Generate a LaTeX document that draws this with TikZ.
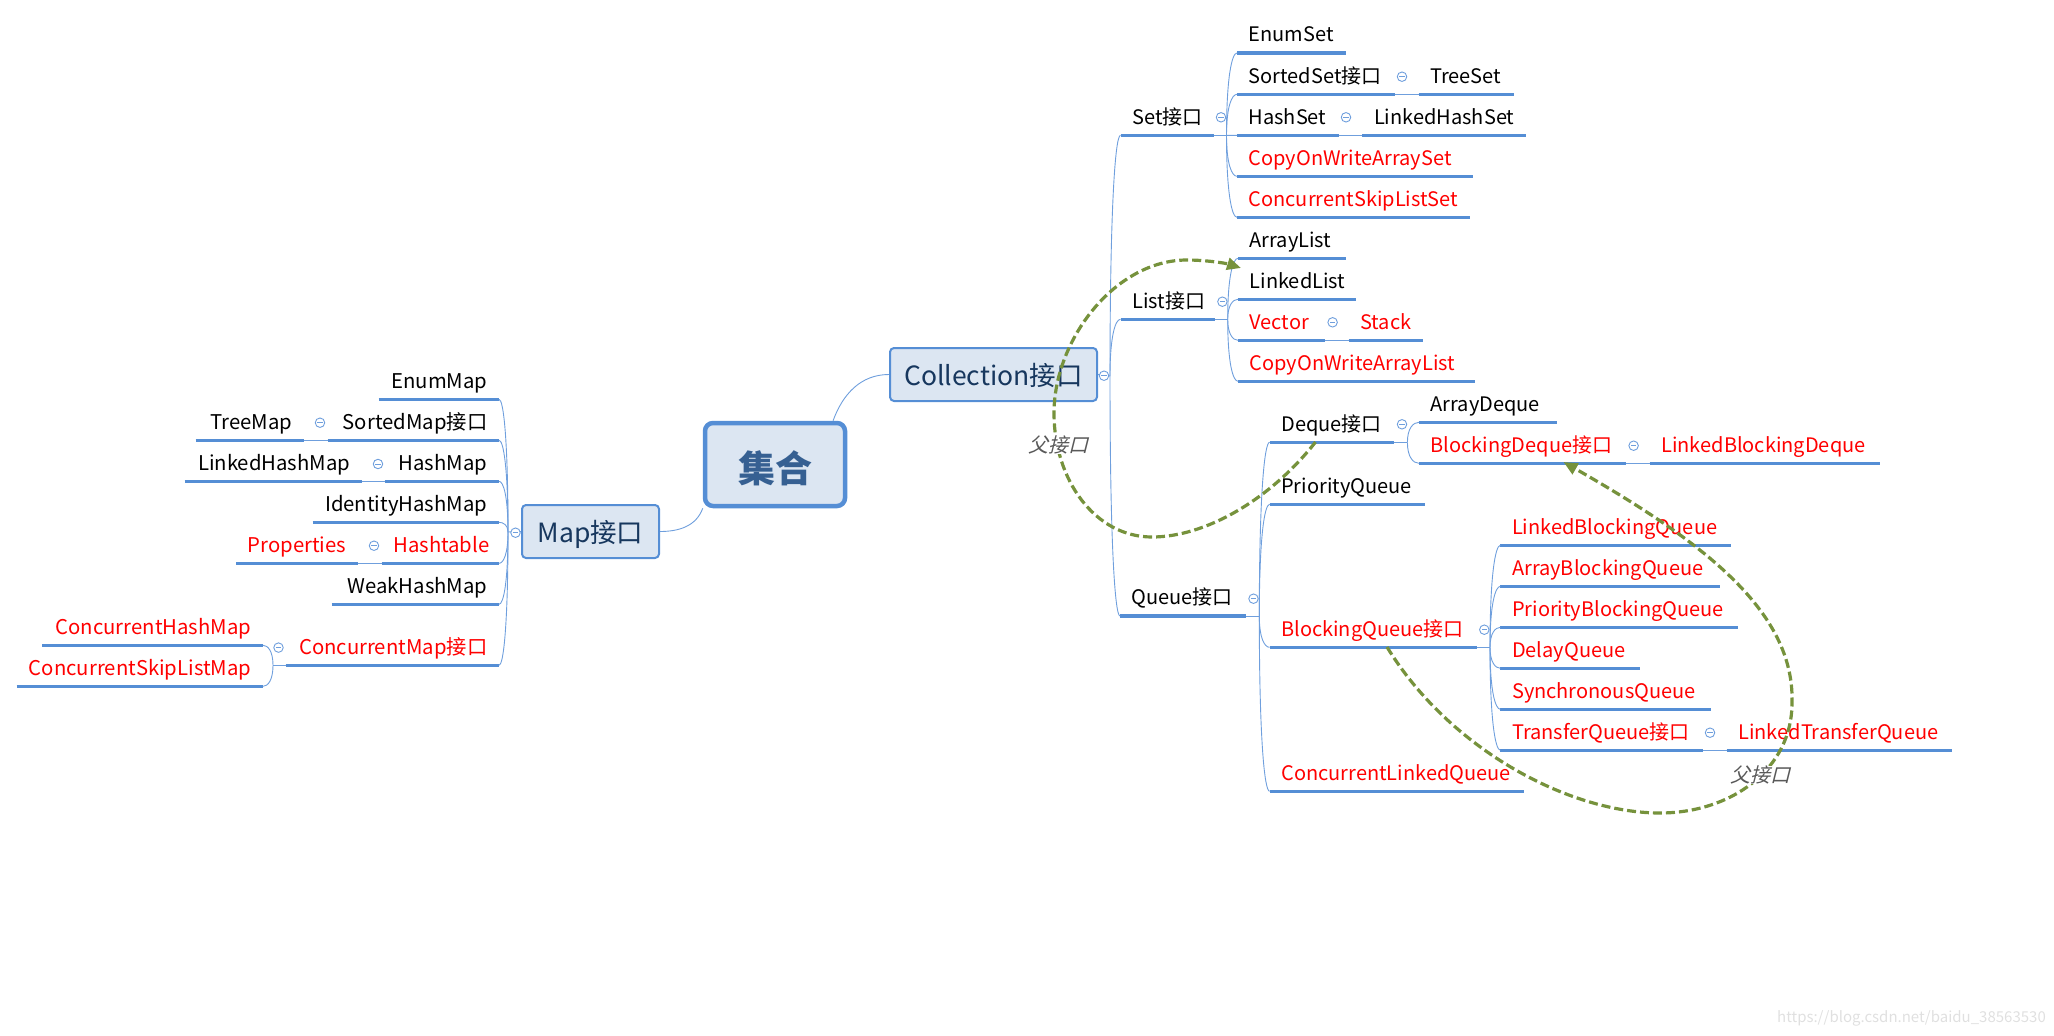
\documentclass[tikz,border=0pt]{standalone}
\usepackage{fontspec}
\setmainfont{Noto Sans CJK SC}
\newfontfamily\slantfont[FakeSlant=0.25]{Noto Sans CJK SC}
\usetikzlibrary{arrows.meta,calc}

\definecolor{linkblue}{HTML}{6F9FDD}
\definecolor{barblue}{HTML}{558ED5}
\definecolor{boxfill}{HTML}{DCE6F2}
\definecolor{boxtext}{HTML}{17375E}
\definecolor{roottext}{HTML}{366092}
\definecolor{relgreen}{HTML}{76923C}

\tikzset{
  bar/.style={line width=3.2pt, barblue},
  link/.style={line width=0.9pt, linkblue},
  branch/.style={to path={.. controls ($(\tikztostart)!.7!(\tikztostart |- \tikztotarget)$)
    and ($(\tikztostart |- \tikztotarget)!.5!(\tikztotarget)$) .. (\tikztotarget)}},
  topic/.style={inner xsep=11.5pt, inner ysep=0pt, text width=#1-23pt, align=left, anchor=south west,
    text height=17pt, text depth=11pt, font=\fontsize{20}{20}\selectfont,
    append after command={(\tikzlastnode.south west) edge[bar] (\tikzlastnode.south east)}},
  ltopic/.style={topic=#1, align=right, anchor=south east, font=\fontsize{20.3}{20.3}\selectfont},
  hot/.style={text=red},
  subject/.style={rectangle, rounded corners=4pt, draw=barblue, fill=boxfill, line width=2pt,
    text=boxtext, font=\fontsize{26.5}{26.5}\selectfont, inner sep=0pt, text height=28pt, text depth=6pt},
  fold/.style={circle, draw=linkblue, fill=white, line width=0.9pt, minimum size=9.5pt, inner sep=0pt,
    path picture={\draw[linkblue, line width=0.9pt] ([xshift=2.2pt]path picture bounding box.west)
      -- ([xshift=-2.2pt]path picture bounding box.east);}},
  relation/.style={line width=3.2pt, relgreen, dash pattern=on 9pt off 4pt,
    -{Triangle[length=14pt,width=12pt,fill=relgreen]}},
  note/.style={fill=white, inner sep=0pt, text=black!65, font=\slantfont\fontsize{20}{20}\selectfont},
}

\begin{document}
\begin{tikzpicture}[x=1pt, y=-1pt]
  \useasboundingbox (0,0) rectangle (2054,1036);

  % centre
  \node[subject, rounded corners=8pt, line width=4.5pt, minimum width=140pt, minimum height=83pt,
    text=roottext, font=\bfseries\fontsize{37}{37}\selectfont, text height=42pt] (Root) at (775,464.5) {集合};
  \node[subject, minimum width=137pt, minimum height=53pt] (Map) at (590.5,531.5) {Map接口};
  \node[subject, minimum width=207pt, minimum height=53pt] (Collection) at (993.5,374.5) {Collection接口};
  \path[link] (Root.37.5) edge[out=70, in=180] (Collection.west);
  \path[link] (Root.south west) edge[out=-110, in=0] (Map.east);

  % map side
  \node[ltopic=120] (EnumMap) at (499,399.3) {EnumMap};
  \node[ltopic=171] (SortedMap) at (499,440.3) {SortedMap接口};
  \node[ltopic=108] (TreeMap) at (304,440.3) {TreeMap};
  \node[ltopic=114] (HashMap) at (499,481.3) {HashMap};
  \node[ltopic=177] (LinkedHashMap) at (362,481.3) {LinkedHashMap};
  \node[ltopic=186] (IdentityHashMap) at (499,522.3) {IdentityHashMap};
  \node[ltopic=117, hot] (Hashtable) at (499,563.3) {Hashtable};
  \node[ltopic=121.5, hot] (Properties) at (358,563.3) {Properties};
  \node[ltopic=167] (WeakHashMap) at (499,604.3) {WeakHashMap};
  \node[ltopic=213, hot] (ConcurrentMap) at (499,665.3) {ConcurrentMap接口};
  \node[ltopic=220.5, hot] (ConcurrentHashMap) at (263,645.3) {ConcurrentHashMap};
  \node[ltopic=246, hot] (ConcurrentSkipListMap) at (263,686.3) {ConcurrentSkipListMap};

  \coordinate (MapBus) at (508,532);
  \coordinate (CMapBus) at (273,665.3);
  \draw[link] (Map.west) -- (MapBus);
  \path[link] (MapBus) edge[branch] (EnumMap.south east);
  \path[link] (MapBus) edge[branch] (SortedMap.south east);
  \path[link] (MapBus) edge[branch] (HashMap.south east);
  \path[link] (MapBus) edge[branch] (IdentityHashMap.south east);
  \path[link] (MapBus) edge[branch] (Hashtable.south east);
  \path[link] (MapBus) edge[branch] (WeakHashMap.south east);
  \path[link] (MapBus) edge[branch] (ConcurrentMap.south east);
  \draw[link] (SortedMap.south west) -- (TreeMap.south east);
  \draw[link] (HashMap.south west) -- (LinkedHashMap.south east);
  \draw[link] (Hashtable.south west) -- (Properties.south east);
  \draw[link] (ConcurrentMap.south west) -- (CMapBus);
  \path[link] (CMapBus) edge[branch] (ConcurrentHashMap.south east);
  \path[link] (CMapBus) edge[branch] (ConcurrentSkipListMap.south east);

  % set
  \node[topic=93] (Set) at (1120.5,135.3) {Set接口};
  \node[topic=108.6] (EnumSet) at (1237,53) {EnumSet};
  \node[topic=157.6] (SortedSet) at (1237,94.3) {SortedSet接口};
  \node[topic=95] (TreeSet) at (1418.7,94.3) {TreeSet};
  \node[topic=101.7] (HashSet) at (1237,135.3) {HashSet};
  \node[topic=163.4] (LinkedHashSet) at (1362.4,135.3) {LinkedHashSet};
  \node[topic=235.6, hot] (CopySet) at (1237,176.3) {CopyOnWriteArraySet};
  \node[topic=232.6, hot] (SkipSet) at (1237,217.3) {ConcurrentSkipListSet};

  \coordinate (SetBus) at (1226.5,135.3);
  \draw[link] (Set.south east) -- (SetBus);
  \path[link] (SetBus) edge[branch] (EnumSet.south west);
  \path[link] (SetBus) edge[branch] (SortedSet.south west);
  \path[link] (SetBus) edge[branch] (HashSet.south west);
  \path[link] (SetBus) edge[branch] (CopySet.south west);
  \path[link] (SetBus) edge[branch] (SkipSet.south west);
  \draw[link] (SortedSet.south east) -- (TreeSet.south west);
  \draw[link] (HashSet.south east) -- (LinkedHashSet.south west);

  % list
  \node[topic=94.2] (List) at (1120.5,319.3) {List接口};
  \node[topic=107.6] (ArrayList) at (1238,258.3) {ArrayList};
  \node[topic=117.5] (LinkedList) at (1238,299.3) {LinkedList};
  \node[topic=86.5, hot] (Vector) at (1238,340.3) {Vector};
  \node[topic=73.9, hot] (Stack) at (1348.6,340.3) {Stack};
  \node[topic=236.5, hot] (CopyList) at (1238,381.3) {CopyOnWriteArrayList};

  \coordinate (ListBus) at (1227.7,319.3);
  \draw[link] (List.south east) -- (ListBus);
  \path[link] (ListBus) edge[branch] (ArrayList.south west);
  \path[link] (ListBus) edge[branch] (LinkedList.south west);
  \path[link] (ListBus) edge[branch] (Vector.south west);
  \path[link] (ListBus) edge[branch] (CopyList.south west);
  \draw[link] (Vector.south east) -- (Stack.south west);

  % queue
  \node[topic=125.5] (Queue) at (1120,616) {Queue接口};
  \node[topic=124.4] (Deque) at (1269.6,442.3) {Deque接口};
  \node[topic=137.6] (ArrayDeque) at (1419,422.3) {ArrayDeque};
  \node[topic=206.5, hot] (BlockingDeque) at (1419,463.3) {BlockingDeque接口};
  \node[topic=229.7, hot] (LinkedBlockingDeque) at (1649.6,463.3) {LinkedBlockingDeque};
  \node[topic=155] (PriorityQueue) at (1269.6,504.3) {PriorityQueue};
  \node[topic=206.7, hot] (BlockingQueue) at (1269.6,647.3) {BlockingQueue接口};
  \node[topic=253.8, hot] (ConcurrentLinkedQueue) at (1269.6,791.3) {ConcurrentLinkedQueue};
  \node[topic=230.2, hot] (LinkedBlockingQueue) at (1500.4,545.3) {LinkedBlockingQueue};
  \node[topic=219.6, hot] (ArrayBlockingQueue) at (1500.4,586.3) {ArrayBlockingQueue};
  \node[topic=237.1, hot] (PriorityBlockingQueue) at (1500.4,627.3) {PriorityBlockingQueue};
  \node[topic=138.9, hot] (DelayQueue) at (1500.4,668.3) {DelayQueue};
  \node[topic=210.1, hot] (SynchronousQueue) at (1500.4,709.3) {SynchronousQueue};
  \node[topic=202.1, hot] (TransferQueue) at (1500.4,750.3) {TransferQueue接口};
  \node[topic=225, hot] (LinkedTransferQueue) at (1726.6,750.3) {LinkedTransferQueue};

  \coordinate (QueueBus) at (1259.3,616);
  \coordinate (DequeBus) at (1407.4,442.3);
  \coordinate (BlockingBus) at (1490,647.3);
  \draw[link] (Queue.south east) -- (QueueBus);
  \path[link] (QueueBus) edge[branch] (Deque.south west);
  \path[link] (QueueBus) edge[branch] (PriorityQueue.south west);
  \path[link] (QueueBus) edge[branch] (BlockingQueue.south west);
  \path[link] (QueueBus) edge[branch] (ConcurrentLinkedQueue.south west);
  \draw[link] (Deque.south east) -- (DequeBus);
  \path[link] (DequeBus) edge[branch] (ArrayDeque.south west);
  \path[link] (DequeBus) edge[branch] (BlockingDeque.south west);
  \draw[link] (BlockingDeque.south east) -- (LinkedBlockingDeque.south west);
  \draw[link] (BlockingQueue.south east) -- (BlockingBus);
  \path[link] (BlockingBus) edge[branch] (LinkedBlockingQueue.south west);
  \path[link] (BlockingBus) edge[branch] (ArrayBlockingQueue.south west);
  \path[link] (BlockingBus) edge[branch] (PriorityBlockingQueue.south west);
  \path[link] (BlockingBus) edge[branch] (DelayQueue.south west);
  \path[link] (BlockingBus) edge[branch] (SynchronousQueue.south west);
  \path[link] (BlockingBus) edge[branch] (TransferQueue.south west);
  \draw[link] (TransferQueue.south east) -- (LinkedTransferQueue.south west);

  % collection trunk
  \coordinate (CollectionBus) at (1110,376);
  \draw[link] (Collection.east) -- (CollectionBus);
  \path[link] (CollectionBus) edge[branch] (Set.south west);
  \path[link] (CollectionBus) edge[branch] (List.south west);
  \path[link] (CollectionBus) edge[branch] (Queue.south west);

  % folding marks
  \node[fold] (MapFold) at (515.5,532.7) {};
  \node[fold] (SortedMapFold) at (320,422.7) {};
  \node[fold] (HashMapFold) at (378,464) {};
  \node[fold] (HashtableFold) at (374,545.7) {};
  \node[fold] (CMapFold) at (278.5,647.6) {};
  \node[fold] (CollectionFold) at (1104,375.7) {};
  \node[fold] (SetFold) at (1221,117.3) {};
  \node[fold] (SortedSetFold) at (1402,76.7) {};
  \node[fold] (HashSetFold) at (1346,117.3) {};
  \node[fold] (ListFold) at (1222.4,301.7) {};
  \node[fold] (VectorFold) at (1332.6,322.3) {};
  \node[fold] (QueueFold) at (1253.5,598.7) {};
  \node[fold] (DequeFold) at (1402,424.3) {};
  \node[fold] (BlockingDequeFold) at (1633.6,445.7) {};
  \node[fold] (BlockingFold) at (1484.3,629.7) {};
  \node[fold] (TransferFold) at (1710,732.7) {};

  % parent interface relations
  \coordinate (DequeRel) at (1315.5,442);
  \coordinate (ListRel) at (1241,268);
  \coordinate (BlockingRel) at (1387,647);
  \coordinate (DequeTip) at (1563.5,462);
  \draw[relation] (DequeRel) .. controls (1270,500) and (1205,537) .. (1152,537)
    .. controls (1095,537) and (1054,480) .. (1054,413)
    .. controls (1054,340) and (1115,260) .. (1187,260)
    .. controls (1205,260) and (1225,263) .. (ListRel);
  \draw[relation] (BlockingRel) .. controls (1450,750) and (1570,813) .. (1660,813)
    .. controls (1730,813) and (1792,770) .. (1792,703)
    .. controls (1795,610) and (1700,540) .. (DequeTip);
  \node[note] (ListNote) at (1058,445) {父接口};
  \node[note] (BlockingNote) at (1760,775) {父接口};

  \node[text=black!12, font=\fontsize{15}{15}\selectfont, anchor=east, inner sep=0pt] (Mark) at (2046,1018)
    {https://blog.csdn.net/baidu\_38563530};
\end{tikzpicture}
\end{document}
